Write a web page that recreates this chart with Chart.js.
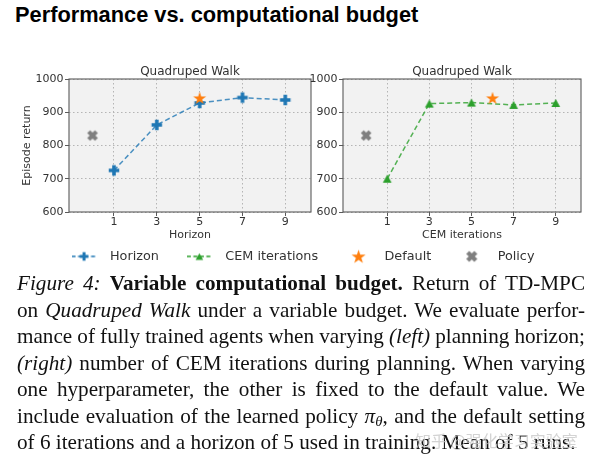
<!DOCTYPE html>
<html>
<head>
<meta charset="utf-8">
<script src="https://cdn.jsdelivr.net/npm/chart.js@4.4.0/dist/chart.umd.min.js"></script>
<style>
  html, body { margin: 0; padding: 0; background: #fff; }
  body { width: 597px; height: 464px; position: relative; overflow: hidden; }
  #title { position: absolute; left: 15px; top: 0; font: bold 21.8px "Liberation Sans", Arial, sans-serif; line-height: 30px; color: #000; white-space: nowrap; }
  canvas { position: absolute; }
  #caption { position: absolute; left: 17px; top: 270px; font-family: "Liberation Serif", "Times New Roman", serif; font-size: 20px; line-height: 26.5px; color: #111; }
  #caption div { white-space: nowrap; height: 26.5px; }
  #caption span.ln { display: inline-block; }
  .sub { font-size: 0.7em; position: relative; top: 0.25em; }
  #wm { position: absolute; left: 415px; top: 428px; font: 16px "Noto Sans CJK SC", sans-serif; color: rgba(200, 200, 200, 0.8); white-space: nowrap; }
</style>
</head>
<body>
<div id="title">Performance vs. computational budget</div>
<canvas id="leg" width="597" height="150" style="left:0;top:222px"></canvas>
<canvas id="c1" width="318" height="185" style="left:0;top:60px"></canvas>
<canvas id="c2" width="297" height="185" style="left:300px;top:60px"></canvas>

<div id="caption">
  <div><span class="ln"><i>Figure 4:</i> <b>Variable computational budget.</b> Return of TD-MPC</span></div>
  <div><span class="ln">on <i>Quadruped Walk</i> under a variable budget. We evaluate perfor-</span></div>
  <div><span class="ln">mance of fully trained agents when varying <i>(left)</i> planning horizon;</span></div>
  <div><span class="ln"><i>(right)</i> number of CEM iterations during planning. When varying</span></div>
  <div><span class="ln">one hyperparameter, the other is fixed to the default value. We</span></div>
  <div><span class="ln">include evaluation of the learned policy <i>π<span class="sub">θ</span></i>, and the default setting</span></div>
  <div><span class="ln last">of 6 iterations and a horizon of 5 used in training. Mean of 5 runs.</span></div>
</div>
<div id="wm">知乎 @强化学习实验室</div>

<script>
// Quadruped Walk: return vs horizon (left) and vs CEM iterations (right)
const xTicks = [1, 3, 5, 7, 9];
const yTicks = [600, 700, 800, 900, 1000];
const horizonX = [1, 3, 5, 7, 9];
const horizonY = [725, 862, 928, 944, 937];
const cemX = [1, 3, 5, 7, 9];
const cemY = [700, 926, 929, 922, 928];
const defaultHorizonX = [5];
const defaultCemX = [6];
const defaultY = [943];
const policyX = [0];
const policyY = [830];

const FONT = '"DejaVu Sans", sans-serif';
const BLUE = '#1f77b4', GREEN = '#2ca02c', ORANGE = '#ff7f0e', GREY = '#7f7f7f';
const PLOT_BG = '#f2f2f2', SPINE = '#5a5a5a', GRID = '#b5b5b5';

const pts = (xs, ys) => xs.map((x, i) => ({ x: x, y: ys[i] }));

// ---- marker shapes (matplotlib-like 'P', 'X', '*', '^') ----
function mk(w, h, draw) {
  const c = document.createElement('canvas');
  c.width = w; c.height = h;
  draw(c.getContext('2d'), w, h);
  return c;
}
function plusPath(ctx, cx, cy, s, t, rot) {
  const a = s / 2, b = t / 2;
  ctx.save(); ctx.translate(cx, cy); ctx.rotate(rot || 0);
  ctx.beginPath();
  [[-b, -a], [b, -a], [b, -b], [a, -b], [a, b], [b, b], [b, a], [-b, a], [-b, b], [-a, b], [-a, -b], [-b, -b]]
    .forEach((p, i) => i ? ctx.lineTo(p[0], p[1]) : ctx.moveTo(p[0], p[1]));
  ctx.closePath(); ctx.restore();
}
function starPath(ctx, cx, cy, R) {
  const r = R * 0.382;
  ctx.beginPath();
  for (let i = 0; i < 10; i++) {
    const ang = -Math.PI / 2 + i * Math.PI / 5, rad = i % 2 ? r : R;
    ctx.lineTo(cx + rad * Math.cos(ang), cy + rad * Math.sin(ang));
  }
  ctx.closePath();
}
function triPath(ctx, cx, cy, r) {
  ctx.beginPath();
  ctx.moveTo(cx, cy - r); ctx.lineTo(cx + r, cy + r * 0.8); ctx.lineTo(cx - r, cy + r * 0.8);
  ctx.closePath();
}
const fillWith = (col, path) => (ctx, w, h) => { path(ctx, w, h); ctx.fillStyle = col; ctx.fill(); };

const plusImg = mk(14, 14, fillWith(BLUE, (c) => plusPath(c, 7, 7, 10.5, 3.6)));
const triImg = mk(12, 12, fillWith(GREEN, (c) => triPath(c, 6, 6.5, 4.4)));
const starImg = mk(16, 16, fillWith(ORANGE, (c) => starPath(c, 8, 8.6, 6.8)));
const xImg = mk(14, 14, fillWith(GREY, (c) => plusPath(c, 7, 7, 11, 4.1, Math.PI / 4)));

// legend handles: dashed line + marker, 32px wide
function handle(col, line, path) {
  return mk(32, 16, (ctx) => {
    if (line) {
      ctx.strokeStyle = col; ctx.lineWidth = 1.5; ctx.setLineDash([4, 2.5]);
      ctx.beginPath(); ctx.moveTo(0, 8); ctx.lineTo(25, 8); ctx.stroke();
      ctx.setLineDash([]);
    }
    path(ctx); ctx.fillStyle = col; ctx.fill();
  });
}
const legHandles = [
  handle(BLUE, true, (c) => plusPath(c, 12.5, 8, 8.5, 3)),
  handle(GREEN, true, (c) => triPath(c, 12.5, 8.5, 3.8)),
  handle(ORANGE, false, (c) => starPath(c, 12.5, 8.6, 7.4)),
  handle(GREY, false, (c) => plusPath(c, 12.5, 8, 11.5, 4.3, Math.PI / 4)),
];
const legLabels = ['Horizon', 'CEM iterations', 'Default', 'Policy'];

// fills the plot area, draws the box and the subplot title
const framePlugin = {
  id: 'frame',
  beforeDraw(chart) {
    const { ctx, chartArea: a } = chart;
    ctx.save(); ctx.fillStyle = PLOT_BG; ctx.fillRect(a.left, a.top, a.width, a.height); ctx.restore();
  },
  beforeDatasetsDraw(chart) {
    const { ctx, chartArea: a } = chart;
    ctx.save(); ctx.strokeStyle = SPINE; ctx.lineWidth = 1.1;
    ctx.strokeRect(a.left, a.top, a.width, a.height);
    ctx.restore();
  },
  afterDraw(chart, args, opts) {
    const { ctx, chartArea: a } = chart;
    ctx.save(); ctx.fillStyle = '#333'; ctx.font = '12px ' + FONT;
    ctx.textAlign = 'center'; ctx.textBaseline = 'alphabetic';
    ctx.fillText(opts.text, (a.left + a.right) / 2, a.top - 4);
    ctx.restore();
  }
};

function lineSet(label, xs, ys, col, lineCol, img) {
  return { label: label, data: pts(xs, ys), showLine: true, borderColor: lineCol, borderWidth: 1.5,
    borderDash: [5, 3], pointStyle: img, pointRadius: 5, backgroundColor: col, order: 1 };
}

function panel(id, o) {
  return new Chart(document.getElementById(id), {
    type: 'scatter',
    data: { datasets: [
      { label: 'Default', data: pts(o.defX, defaultY), pointStyle: starImg, pointRadius: 6, showLine: false },
      lineSet(o.label, o.xs, o.ys, o.col, o.lineCol, o.img),
      { label: 'Policy', data: pts(policyX, policyY), pointStyle: xImg, pointRadius: 5, showLine: false },
    ] },
    options: {
      responsive: false, animation: false, events: [],
      layout: { padding: { top: 19, right: o.padRight, left: 0, bottom: 0 } },
      plugins: { legend: { display: false }, tooltip: { enabled: false }, frame: { text: 'Quadruped Walk' } },
      scales: {
        x: {
          type: 'linear', min: -1.1, max: 10.2,
          afterBuildTicks: (s) => { s.ticks = xTicks.map((v) => ({ value: v })); },
          afterFit: (s) => { s.height = 33; },
          grid: { color: GRID, lineWidth: 1, tickColor: SPINE, tickLength: 4, tickWidth: 1 },
          border: { display: false, dash: [1.5, 2.5] },
          ticks: { color: '#333', font: { family: FONT, size: 11 }, padding: 0, maxRotation: 0, callback: (v) => String(v) },
          title: { display: true, text: o.xTitle, color: '#333', font: { family: FONT, size: 11 }, padding: { top: 0, bottom: 3 } },
        },
        y: {
          min: 600, max: 1000,
          afterBuildTicks: (s) => { s.ticks = yTicks.map((v) => ({ value: v })); },
          afterFit: (s) => { s.width = o.yWidth; },
          grid: { color: GRID, lineWidth: 1, tickColor: SPINE, tickLength: 4, tickWidth: 1 },
          border: { display: false, dash: [1.5, 2.5] },
          ticks: { color: '#333', font: { family: FONT, size: 11 }, padding: 1.5, callback: (v) => String(v) },
          title: { display: !!o.yTitle, text: o.yTitle || '', color: '#333', font: { family: FONT, size: 11 }, padding: { top: 21, bottom: 0 } },
        },
      },
    },
    plugins: [framePlugin],
  });
}

panel('c1', { label: 'Horizon', xs: horizonX, ys: horizonY, col: BLUE, lineCol: 'rgba(31,119,180,0.8)', img: plusImg,
  defX: defaultHorizonX, xTitle: 'Horizon', yTitle: 'Episode return', yWidth: 69, padRight: 7 });
panel('c2', { label: 'CEM iterations', xs: cemX, ys: cemY, col: GREEN, lineCol: 'rgba(44,160,44,0.8)', img: triImg,
  defX: defaultCemX, xTitle: 'CEM iterations', yWidth: 43, padRight: 16 });

// shared legend below both panels
new Chart(document.getElementById('leg'), {
  type: 'scatter',
  data: { datasets: legLabels.map((l) => ({ label: l, data: [] })) },
  options: {
    responsive: false, animation: false, events: [],
    layout: { padding: { left: 9, right: 0, top: 0, bottom: 0 } },
    scales: { x: { display: false }, y: { display: false } },
    plugins: {
      tooltip: { enabled: false },
      legend: {
        position: 'top',
        labels: {
          usePointStyle: true, pointStyleWidth: 32, padding: 28, color: '#333',
          font: { family: FONT, size: 12.8 },
          generateLabels: () => legLabels.map((l, i) => ({ text: l, pointStyle: legHandles[i], fontColor: '#333', lineWidth: 0, datasetIndex: i })),
        },
      },
    },
  },
});

// caption: stretch/shrink word spacing so each line fills the column like the typeset original
(function () {
  const lines = document.querySelectorAll('#caption span.ln');
  const last = lines[lines.length - 1];
  const fs = 20 * 559 / last.getBoundingClientRect().width;
  document.getElementById('caption').style.fontSize = fs + 'px';
  lines.forEach((el) => {
    if (el.classList.contains('last')) return;
    const w = el.getBoundingClientRect().width;
    const n = (el.textContent.match(/ /g) || []).length;
    el.style.wordSpacing = ((568 - w) / n) + 'px';
  });
})();
</script>
</body>
</html>
